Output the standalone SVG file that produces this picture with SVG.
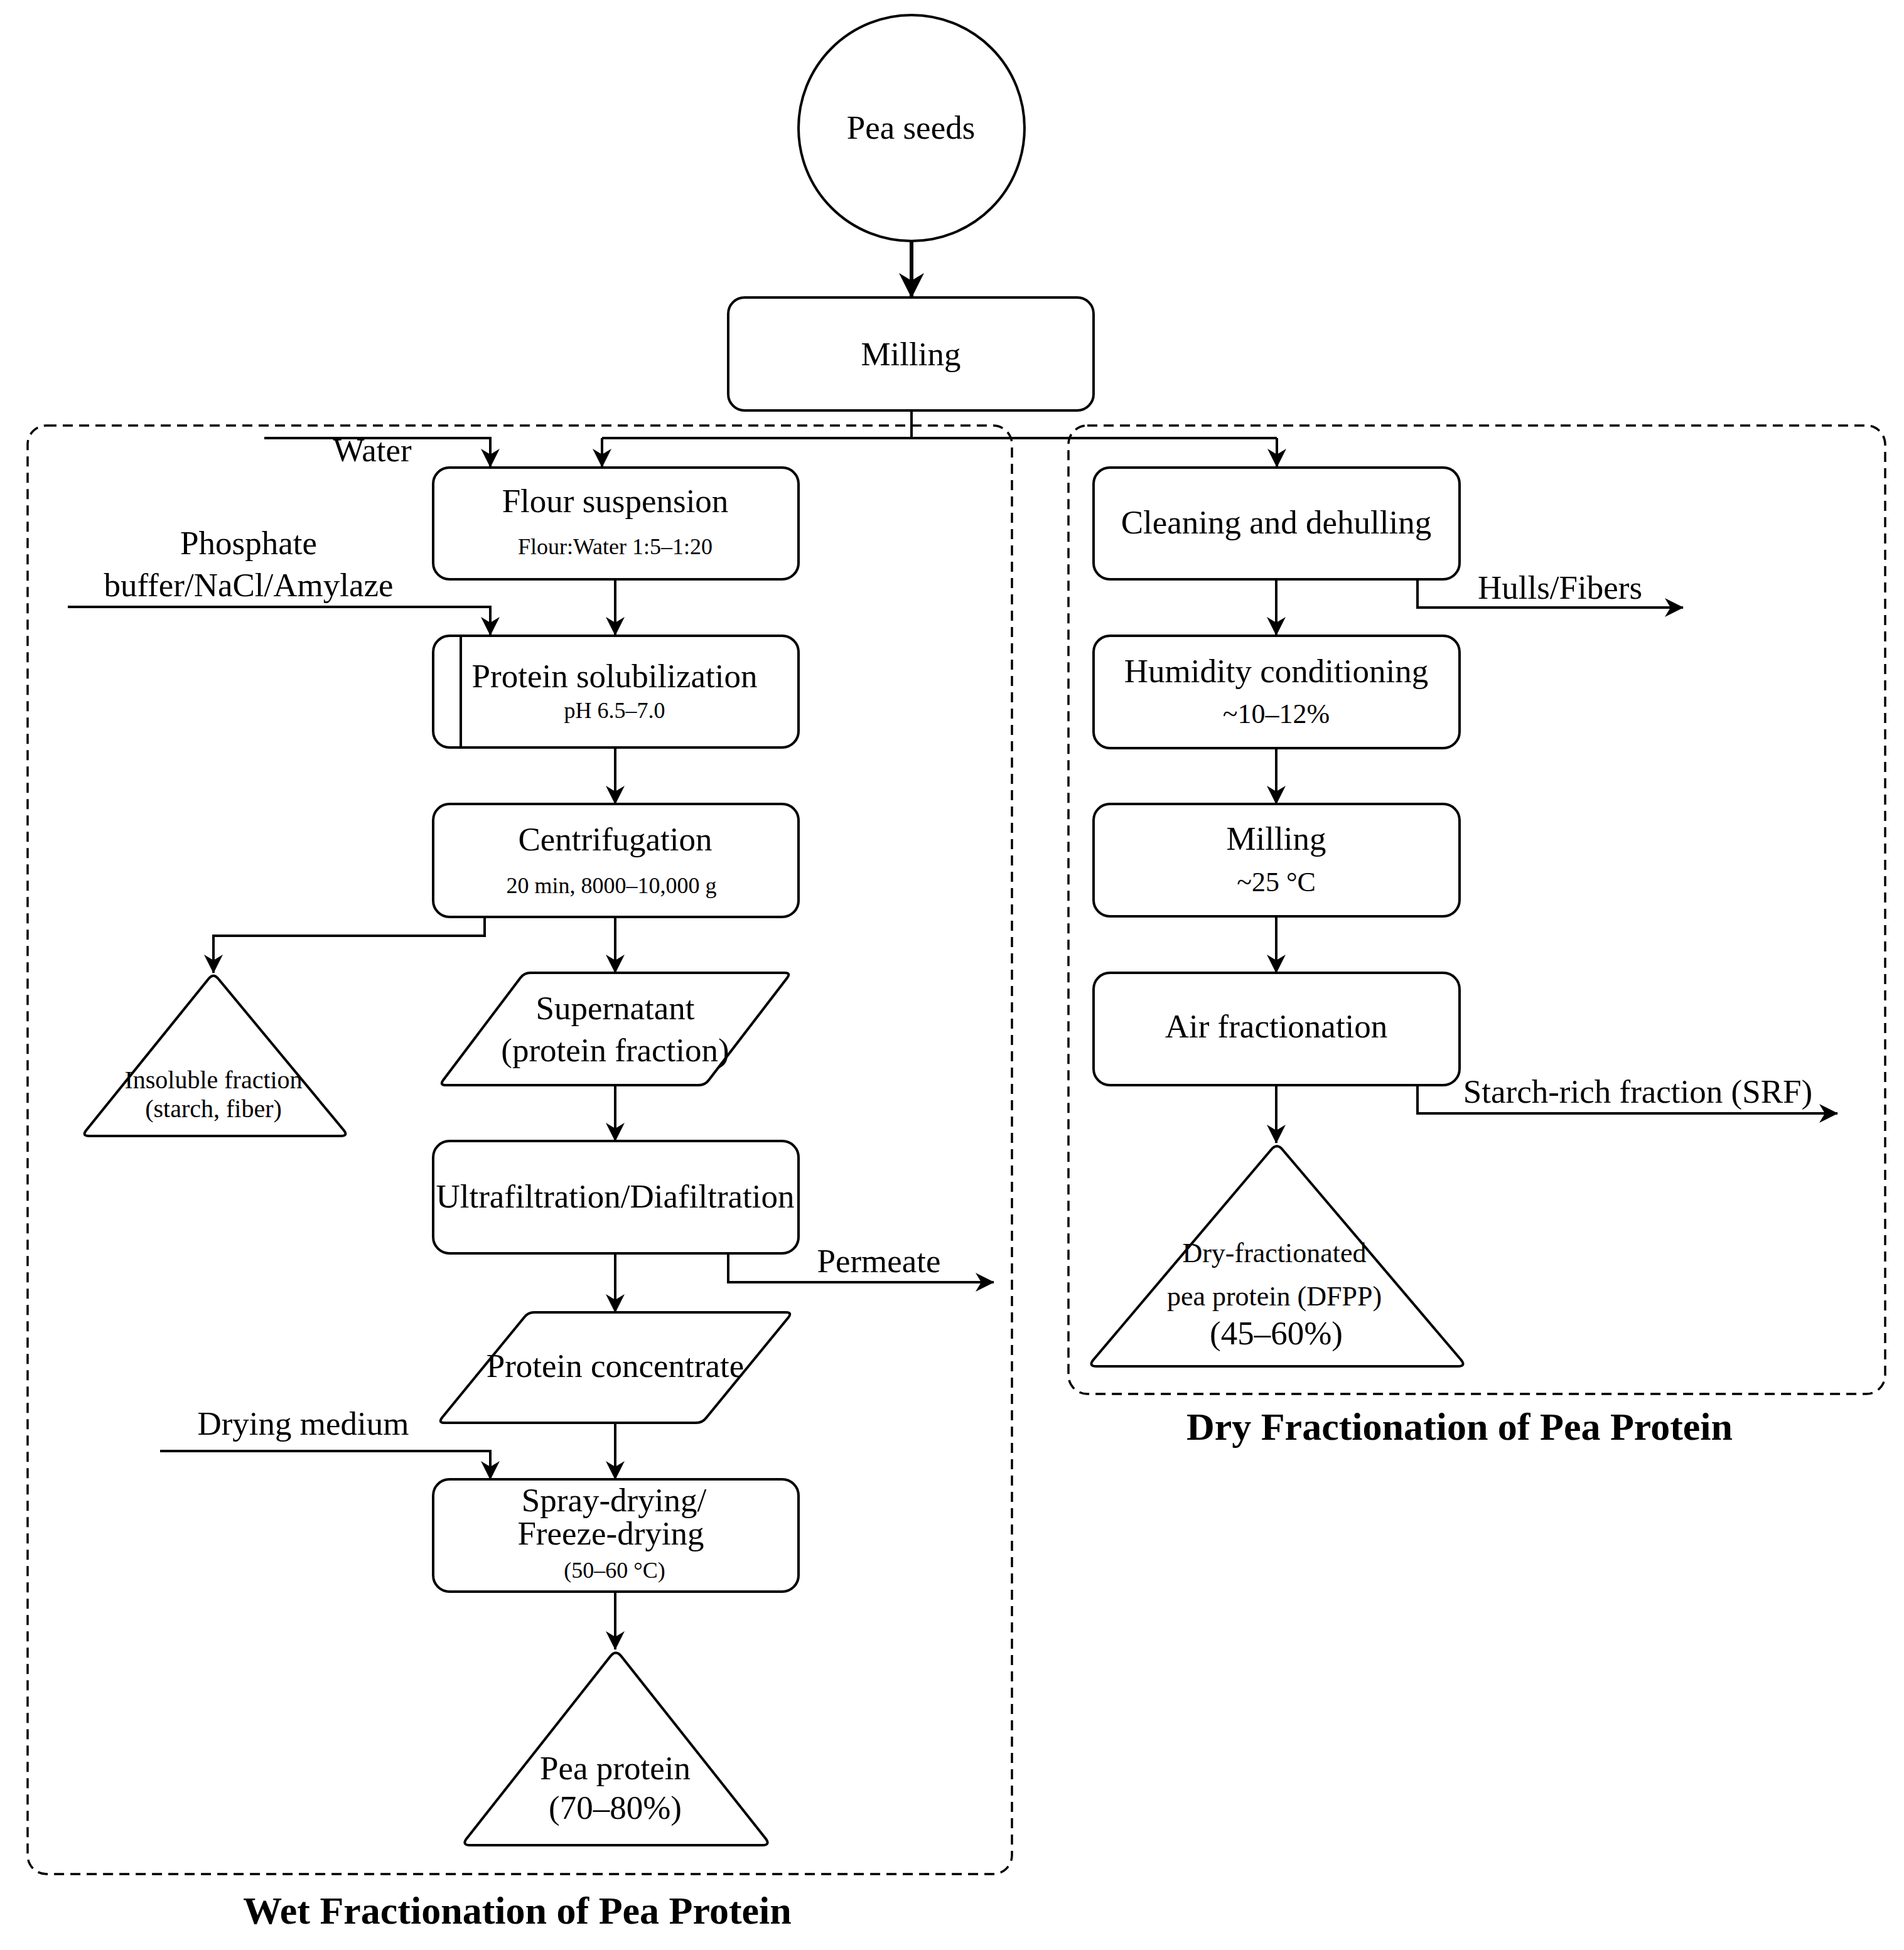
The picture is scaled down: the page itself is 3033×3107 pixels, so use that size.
<svg xmlns="http://www.w3.org/2000/svg" width="3033" height="3107" viewBox="0 0 3033 3107">
<style>
  text { font-family: "Liberation Serif", "Times New Roman", serif; fill: #000; text-anchor: middle; }
  .t { font-size: 53px; }
  .s { font-size: 36px; }
  .m { font-size: 44px; }
  .i { font-size: 40px; }
  .title { font-size: 62px; font-weight: bold; }
  .node { fill: #fff; stroke: #000; stroke-width: 4; stroke-linejoin: round; }
  .edge { fill: none; stroke: #000; stroke-width: 4; }
  .thick { fill: none; stroke: #000; stroke-width: 6; }
  .group { fill: none; stroke: #000; stroke-width: 3.5; stroke-dasharray: 16 10; }
</style>
<defs>
  <marker id="arr" markerUnits="userSpaceOnUse" viewBox="0 0 30 30" markerWidth="30" markerHeight="30" refX="29" refY="15" orient="auto">
    <path d="M0,0 L30,15 L0,30 L9,15 Z" fill="#000"/>
  </marker>
  <marker id="arrBig" markerUnits="userSpaceOnUse" viewBox="0 0 40 40" markerWidth="40" markerHeight="40" refX="39" refY="20" orient="auto">
    <path d="M0,0 L40,20 L0,40 L12,20 Z" fill="#000"/>
  </marker>
</defs>
<rect width="3033" height="3107" fill="#fff"/>

<g id="groups">
  <rect class="group" x="44" y="678" width="1568" height="2308" rx="30" ry="30"/>
  <rect class="group" x="1702" y="678" width="1301" height="1543" rx="30" ry="30"/>
  <text class="title" x="824" y="3065">Wet Fractionation of Pea Protein</text>
  <text class="title" x="2325" y="2294">Dry Fractionation of Pea Protein</text>
</g>

<g id="connectors">
  <line class="thick" x1="1452" y1="384" x2="1452" y2="474" marker-end="url(#arrBig)"/>
  <line class="edge" x1="1452" y1="654" x2="1452" y2="698"/>
  <line class="edge" x1="959" y1="698" x2="2034" y2="698"/>
  <line class="edge" x1="959" y1="698" x2="959" y2="744" marker-end="url(#arr)"/>
  <line class="edge" x1="2034" y1="698" x2="2034" y2="744" marker-end="url(#arr)"/>
  <polyline class="edge" points="421,698 781,698 781,744" marker-end="url(#arr)"/>
  <line class="edge" x1="980" y1="923" x2="980" y2="1012" marker-end="url(#arr)"/>
  <polyline class="edge" points="108,967 781,967 781,1012" marker-end="url(#arr)"/>
  <line class="edge" x1="980" y1="1191" x2="980" y2="1281" marker-end="url(#arr)"/>
  <polyline class="edge" points="772,1461 772,1491 340,1491 340,1550" marker-end="url(#arr)"/>
  <line class="edge" x1="980" y1="1461" x2="980" y2="1550" marker-end="url(#arr)"/>
  <line class="edge" x1="980" y1="1729" x2="980" y2="1818" marker-end="url(#arr)"/>
  <polyline class="edge" points="1160,1997 1160,2043 1583,2043" marker-end="url(#arr)"/>
  <line class="edge" x1="980" y1="1997" x2="980" y2="2091" marker-end="url(#arr)"/>
  <polyline class="edge" points="255,2312 781,2312 781,2357" marker-end="url(#arr)"/>
  <line class="edge" x1="980" y1="2267" x2="980" y2="2357" marker-end="url(#arr)"/>
  <line class="edge" x1="980" y1="2536" x2="980" y2="2628" marker-end="url(#arr)"/>
  <line class="edge" x1="2033" y1="923" x2="2033" y2="1012" marker-end="url(#arr)"/>
  <polyline class="edge" points="2258,923 2258,968 2681,968" marker-end="url(#arr)"/>
  <line class="edge" x1="2033" y1="1192" x2="2033" y2="1281" marker-end="url(#arr)"/>
  <line class="edge" x1="2033" y1="1460" x2="2033" y2="1550" marker-end="url(#arr)"/>
  <line class="edge" x1="2033" y1="1729" x2="2033" y2="1821" marker-end="url(#arr)"/>
  <polyline class="edge" points="2258,1729 2258,1774 2927,1774" marker-end="url(#arr)"/>
  <text class="t" x="593" y="735">Water</text>
  <text class="t" x="396" y="883">Phosphate</text>
  <text class="t" x="396" y="950">buffer/NaCl/Amylaze</text>
  <text class="t" x="1400" y="2027">Permeate</text>
  <text class="t" x="483" y="2286">Drying medium</text>
  <text class="t" x="2485" y="954">Hulls/Fibers</text>
  <text class="t" x="2609" y="1757">Starch-rich fraction (SRF)</text>
</g>

<g id="pea-seeds">
  <circle class="node" cx="1452" cy="204" r="180"/>
  <text class="t" x="1451" y="221">Pea seeds</text>
</g>
<g id="milling-main">
  <rect class="node" x="1160" y="474" width="582" height="180" rx="26"/>
  <text class="t" x="1451" y="582">Milling</text>
</g>

<g id="flour-suspension">
  <rect class="node" x="690" y="745" width="582" height="178" rx="26"/>
  <text class="t" x="980" y="816">Flour suspension</text>
  <text class="s" x="980" y="883">Flour:Water 1:5–1:20</text>
</g>
<g id="protein-solubilization">
  <rect class="node" x="690" y="1013" width="582" height="178" rx="26"/>
  <line class="node" x1="734" y1="1013" x2="734" y2="1191"/>
  <text class="t" x="979" y="1095">Protein solubilization</text>
  <text class="s" x="979" y="1144">pH 6.5–7.0</text>
</g>
<g id="centrifugation">
  <rect class="node" x="690" y="1281" width="582" height="180" rx="26"/>
  <text class="t" x="980" y="1355">Centrifugation</text>
  <text class="s" x="974" y="1423">20 min, 8000–10,000 g</text>
</g>
<g id="insoluble-fraction">
  <path class="node" d="M332.5,1559.3 Q340,1550 347.5,1559.3 L547.5,1800.7 Q555,1810 543,1810 L142,1810 Q130,1810 137.5,1800.7 Z"/>
  <text class="i" x="340" y="1734">Insoluble fraction</text>
  <text class="i" x="340" y="1780">(starch, fiber)</text>
</g>
<g id="supernatant">
  <path class="node" d="M845,1550 L1250,1550 Q1260,1550 1254,1558 L1129,1721 Q1123,1729 1113,1729 L710,1729 Q700,1729 706,1721 L829,1558 Q835,1550 845,1550 Z"/>
  <text class="t" x="980" y="1624">Supernatant</text>
  <text class="t" x="980" y="1691">(protein fraction)</text>
</g>
<g id="ultrafiltration">
  <rect class="node" x="690" y="1818" width="582" height="179" rx="26"/>
  <text class="t" x="980" y="1924">Ultrafiltration/Diafiltration</text>
</g>
<g id="protein-concentrate">
  <path class="node" d="M851,2091 L1252,2091 Q1262,2091 1256,2099 L1125,2259 Q1119,2267 1109,2267 L708,2267 Q698,2267 704,2259 L835,2099 Q841,2091 851,2091 Z"/>
  <text class="t" x="980" y="2194">Protein concentrate</text>
</g>
<g id="spray-drying">
  <rect class="node" x="690" y="2357" width="582" height="179" rx="26"/>
  <text class="t" x="978" y="2408">Spray-drying/</text>
  <text class="t" x="973" y="2461">Freeze-drying</text>
  <text class="s" x="979" y="2514">(50–60 °C)</text>
</g>
<g id="pea-protein">
  <path class="node" d="M972.3,2639 Q981,2628 989.7,2639 L1219.3,2929 Q1228,2940 1214,2940 L749,2940 Q735,2940 743.7,2929 Z"/>
  <text class="t" x="980" y="2835">Pea protein</text>
  <text class="t" x="980" y="2898">(70–80%)</text>
</g>

<g id="cleaning-dehulling">
  <rect class="node" x="1742" y="745" width="583" height="178" rx="26"/>
  <text class="t" x="2033" y="850">Cleaning and dehulling</text>
</g>
<g id="humidity-conditioning">
  <rect class="node" x="1742" y="1013" width="583" height="179" rx="26"/>
  <text class="t" x="2033" y="1087">Humidity conditioning</text>
  <text class="m" x="2033" y="1152">~10–12%</text>
</g>
<g id="milling-dry">
  <rect class="node" x="1742" y="1281" width="583" height="179" rx="26"/>
  <text class="t" x="2033" y="1354">Milling</text>
  <text class="m" x="2033" y="1420">~25 °C</text>
</g>
<g id="air-fractionation">
  <rect class="node" x="1742" y="1550" width="583" height="179" rx="26"/>
  <text class="t" x="2033" y="1653">Air fractionation</text>
</g>
<g id="dfpp">
  <path class="node" d="M2025,1831.7 Q2034,1821 2043,1831.7 L2327,2166.3 Q2336,2177 2322,2177 L1747,2177 Q1733,2177 1742,2166.3 Z"/>
  <text class="m" x="2030" y="2011">Dry-fractionated</text>
  <text class="m" x="2030" y="2080">pea protein (DFPP)</text>
  <text class="t" x="2033" y="2142">(45–60%)</text>
</g>
</svg>
